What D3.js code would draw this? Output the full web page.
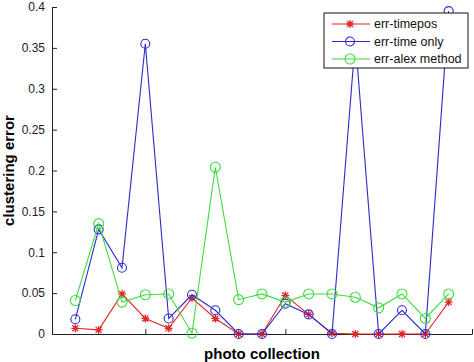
<!DOCTYPE html>
<html lang="en">
<head>
    <meta charset="UTF-8">
    <title>Clustering error per photo collection</title>
    <script src="https://d3js.org/d3.v7.min.js"></script>
    <style>
        body {
            margin: 0;
            background-color: #fff;
            font-family: "Liberation Sans", Arial, sans-serif;
        }
        .tick text {
            font-size: 12px;
            fill: #222;
        }
        .legend text {
            font-size: 12.5px;
            fill: #111;
        }
    </style>
</head>
<body>
    <svg width="474" height="362"></svg>

    <script>
        // Data: one value per photo collection (1..17)
        var collections = d3.range(1, 18);
        var errTimepos = [0.007, 0.005, 0.049, 0.019, 0.007, 0.044, 0.019, 0, 0, 0.047, 0.024, 0.001, 0, 0, 0, 0, 0.039];
        var errTimeOnly = [0.018, 0.128, 0.081, 0.355, 0.019, 0.048, 0.029, 0, 0, 0.037, 0.024, 0, 0.36, 0, 0.029, 0, 0.395];
        var errAlex = [0.041, 0.135, 0.039, 0.048, 0.049, 0.001, 0.204, 0.042, 0.049, 0.039, 0.049, 0.049, 0.045, 0.032, 0.049, 0.019, 0.049];
        var seriesNames = ["err-timepos", "err-time only", "err-alex method"];
        var yTicks = [0, 0.05, 0.1, 0.15, 0.2, 0.25, 0.3, 0.35, 0.4];
        var xTicks = [4, 10, 16, 18];

        var margin = { top: 7, right: 2, bottom: 28, left: 52 },
            width = 474 - margin.left - margin.right,
            height = 362 - margin.top - margin.bottom;

        var svg = d3.select("svg")
            .append("g")
            .attr("transform", "translate(" + margin.left + "," + margin.top + ")");

        var x = d3.scaleLinear().domain([0, 18]).range([0, width]);
        var y = d3.scaleLinear().domain([0, 0.4]).range([height, 0]);

        // axes, ticks pointing inward like matlab
        svg.append("g")
            .attr("transform", "translate(0," + height + ")")
            .call(d3.axisBottom(x).tickValues(xTicks).tickSize(-5).tickSizeOuter(0).tickFormat(""));

        var yAxis = svg.append("g")
            .call(d3.axisLeft(y).tickValues(yTicks).tickSize(-5).tickSizeOuter(0)
                .tickFormat(function(d) { return d === 0 ? "0" : String(d); }));
        yAxis.selectAll(".tick text").attr("x", -7);

        svg.selectAll(".domain").attr("stroke", "#222");
        svg.selectAll(".tick line").attr("stroke", "#222");

        var colors = ["#e32626", "#2b2bcc", "#3ddc3d"];
        var series = [errTimepos, errTimeOnly, errAlex];

        var line = d3.line()
            .x(function(d, i) { return x(collections[i]); })
            .y(function(d) { return y(d); });

        var star = "M-4,0L4,0M0,-4L0,4M-3,-3L3,3M-3,3L3,-3";

        function drawMarker(g, k, cx, cy) {
            if (k === 0) {
                g.append("path")
                    .attr("d", star)
                    .attr("transform", "translate(" + cx + "," + cy + ")")
                    .attr("stroke", colors[k])
                    .attr("stroke-width", 1.3)
                    .attr("fill", "none");
            } else {
                g.append("circle")
                    .attr("cx", cx)
                    .attr("cy", cy)
                    .attr("r", k === 1 ? 4.5 : 5)
                    .attr("stroke", colors[k])
                    .attr("stroke-width", 1.1)
                    .attr("fill", "none");
            }
        }

        series.forEach(function(vals, k) {
            var g = svg.append("g");
            g.append("path")
                .datum(vals)
                .attr("d", line)
                .attr("fill", "none")
                .attr("stroke", colors[k])
                .attr("stroke-width", 1.1);
            vals.forEach(function(v, i) {
                drawMarker(g, k, x(collections[i]), y(v));
            });
        });

        // legend
        var legend = svg.append("g")
            .attr("class", "legend")
            .attr("transform", "translate(272,6)");

        legend.append("rect")
            .attr("width", 144)
            .attr("height", 55)
            .attr("fill", "#fff")
            .attr("stroke", "#111")
            .attr("stroke-width", 1);

        seriesNames.forEach(function(name, k) {
            var row = legend.append("g").attr("transform", "translate(0," + (11 + k * 17.5) + ")");
            row.append("line")
                .attr("x1", 8).attr("x2", 46)
                .attr("stroke", colors[k])
                .attr("stroke-width", 1.1);
            drawMarker(row, k, 26, 0);
            row.append("text")
                .attr("x", 50)
                .attr("dy", "0.35em")
                .text(name);
        });

        // axis labels
        svg.append("text")
            .attr("x", width / 2)
            .attr("y", height + 25)
            .attr("text-anchor", "middle")
            .style("font-size", "15px")
            .style("font-weight", "bold")
            .text("photo collection");

        svg.append("text")
            .attr("transform", "rotate(-90)")
            .attr("x", -height / 2)
            .attr("y", -38)
            .attr("text-anchor", "middle")
            .style("font-size", "15px")
            .style("font-weight", "bold")
            .text("clustering error");
    </script>
</body>
</html>
